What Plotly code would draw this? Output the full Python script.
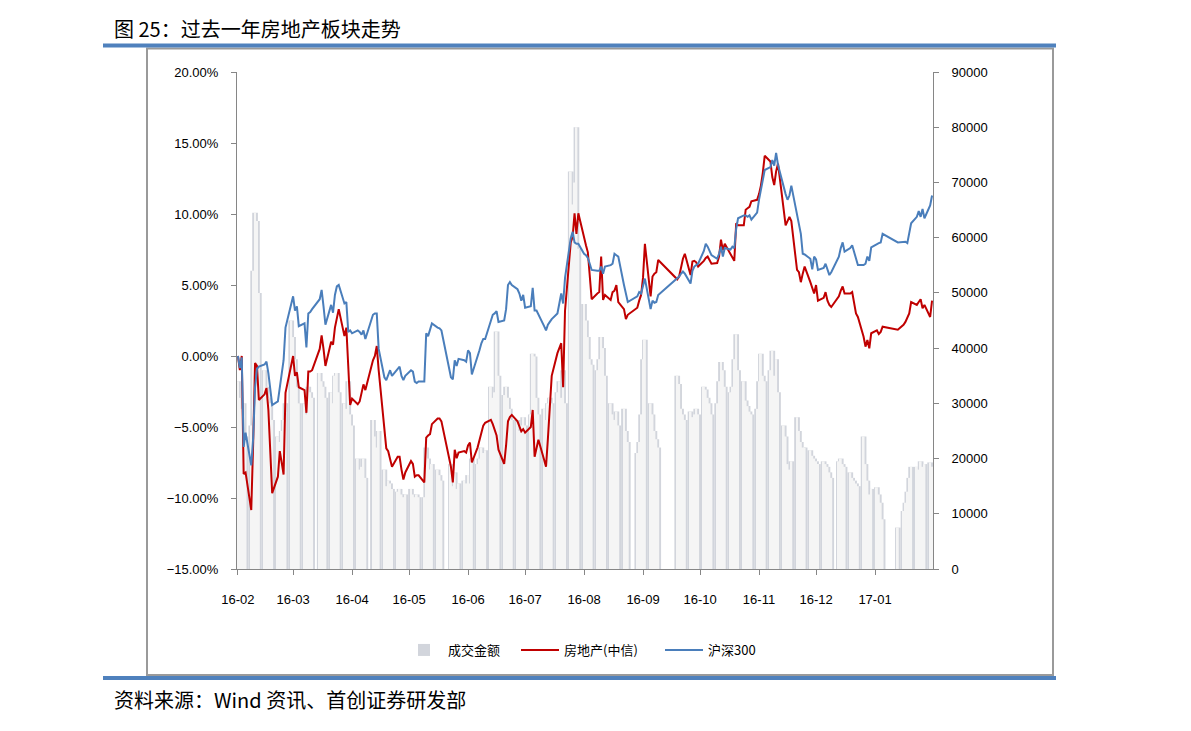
import pandas as pd
import plotly.graph_objects as go

# ---------------- data ----------------
holidays = ['2016-04-04', '2016-05-02', '2016-06-09', '2016-06-10', '2016-09-15', '2016-09-16',
            '2016-10-03', '2016-10-04', '2016-10-05', '2016-10-06', '2016-10-07', '2017-01-02',
            '2017-01-27', '2017-01-30', '2017-01-31', '2017-02-01', '2017-02-02']
trade_dates = [d for d in pd.bdate_range('2016-02-22', '2017-02-21')
               if d.strftime('%Y-%m-%d') not in holidays]

hs300_pct = (
    [0.0, -0.85, -0.1, -6.4, -5.4, -7.7] +
    [-5.8, -2.2, -0.9, -0.75, -0.6, -0.4, -1.2, -2.4, -3.45, -3.2, -2.2, -1.2, -0.3, 2.0,
     3.7, 4.2, 3.2, 3.5, 2.1, 2.3, 0.6, 3.0, 3.1] +
    [3.3, 4.0, 4.65, 3.5, 2.2, 3.6, 3.05, 4.3, 4.9, 5.0, 3.7, 3.8, 1.7, 1.8, 1.6,
     1.8, 1.7, 1.5, 1.8, 1.2] +
    [2.9, 3.0, 3.0, 0.5, -1.5, -1.7, -1.4, -1.0, -1.4, -0.9, -0.75, -1.4, -1.7, -1.4,
     -1.0, -1.1, -1.8, -1.9, -1.8, -1.8, 1.6] +
    [1.4, 1.9, 2.3, 2.0, 1.95, 1.8, -1.5, -1.65, -0.3, -0.7, -0.2, -0.3, -0.4, 0.4, 0.2, -1.3,
     -0.1, 0.4, 0.9, 1.2] +
    [1.2, 2.6, 2.9, 3.0, 3.16, 2.4, 2.5, 3.3, 5.0, 5.2, 5.0, 4.7, 4.4, 3.9, 4.3, 3.4,
     3.5, 4.8, 3.2, 3.2, 2.95] +
    [2.1, 1.8, 2.2, 2.4, 2.6, 3.0, 3.7, 4.4, 3.7, 5.5, 8.3, 8.75, 8.0, 7.9, 7.9,
     7.2, 7.1, 6.9, 6.5, 6.06, 6.0, 6.0, 6.3] +
    [5.8, 6.3, 6.4, 6.5, 7.2, 7.1, 7.0, 5.0, 4.5, 3.8, 4.2, 4.5, 4.4, 4.9, 5.45,
     3.3, 3.9, 3.75, 3.8, 4.3] +
    [5.5, 5.6, 5.8, 5.95, 5.8, 5.1, 6.0, 6.3, 6.4, 6.5, 7.4, 7.9, 7.7, 7.4, 7.1, 6.85] +
    [7.2, 7.7, 7.0, 7.6, 7.5, 7.7, 7.6, 8.96, 9.7, 9.9, 9.9, 9.8, 9.9, 9.6,
     10.1, 11.0, 11.8, 12.4, 13.1, 13.3, 13.8, 13.4] +
    [14.3, 13.45, 11.8, 11.4, 11.0, 11.3, 12.0, 9.8, 9.2, 8.6, 7.2, 7.15,
     6.85, 6.1, 7.0, 6.8, 6.06, 6.2, 6.5, 6.1, 5.7, 5.9] +
    [7.0, 7.6, 8.0, 7.35, 7.6, 7.8, 7.3, 6.8, 6.4, 6.4, 6.5, 7.0, 6.7, 7.65,
     7.9, 7.95, 8.0, 8.6] +
    [8.0, 8.0, 8.05, 7.95, 8.8, 9.35, 9.8, 10.2, 9.8, 10.35, 9.7, 10.6, 11.3]
)

realestate_pct = (
    [0.0, -1.0, 0.0, -8.3, -8.2, -10.85] +
    [-6.15, -0.5, -0.7, -3.1, -2.7, -2.25, -3.8, -7.0, -9.66, -8.5, -6.7, -7.5, -8.35, -2.6,
     -0.8, 0.0, -1.4, -1.15, -2.2, -2.4, -4.0, -1.1, -1.1] +
    [-1.0, 0.5, 1.45, 0.5, -0.7, 1.0, 0.8, 2.0, 2.6, 3.3, 1.4, 2.0, -0.7, -3.45, -3.0,
     -3.4, -3.2, -2.5, -2.0, -2.4] +
    [-0.3, 0.0, 0.7, -1.0, -5.0, -6.5, -6.7, -7.2, -7.8, -7.1, -7.1, -8.0, -8.7, -8.2,
     -7.4, -7.6, -8.5, -8.4, -8.4, -8.9, -5.75] +
    [-5.6, -5.5, -4.8, -4.4, -4.4, -4.6, -7.8, -8.9, -6.6, -7.2, -6.8, -6.7, -6.8, -6.3, -6.1, -7.5,
     -6.45, -5.9, -5.3, -4.9] +
    [-4.7, -4.5, -4.8, -5.2, -5.6, -6.6, -7.6, -6.3, -4.6, -4.3, -4.15, -4.6, -4.9, -5.3, -5.15, -5.4,
     -5.0, -3.8, -7.1, -6.5, -5.9] +
    [-7.3, -7.8, -5.8, -3.8, -1.4, 0.2, 0.6, 0.9, -2.2, 3.2, 8.0, 8.4, 10.05, 8.6, 10.05,
     8.2, 7.8, 7.3, 5.8, 4.0, 4.4, 4.5, 7.0] +
    [3.95, 4.3, 3.95, 4.5, 4.6, 5.0, 3.8, 3.3, 2.6, 2.9, 3.4, 3.9, 4.3, 5.5, 7.9,
     4.2, 5.6, 5.8, 5.9, 6.76] +
    [5.4, 5.6, 6.3, 6.85, 7.2, 5.7, 6.65, 6.7, 6.6, 6.3, 6.7, 6.9, 7.0, 6.7, 6.5, 6.55] +
    [7.0, 8.2, 7.45, 7.9, 7.2, 6.9, 6.7, 9.35, 9.2, 9.2, 10.3, 10.4, 10.5, 10.9,
     11.0, 11.4, 12.0, 12.9, 14.1, 13.7, 12.6, 12.04] +
    [13.0, 13.55, 10.4, 9.2, 9.5, 9.8, 9.5, 6.06, 5.9, 5.2, 5.8, 6.3,
     5.2, 4.8, 4.4, 5.0, 3.9, 4.1, 4.5, 3.9, 3.6, 3.45] +
    [4.2, 4.6, 4.9, 4.4, 4.4, 4.5, 3.8, 3.0, 2.75, 1.36, 0.66, 1.13, 0.54, 1.6,
     1.8, 1.55, 1.7, 2.06] +
    [1.85, 2.2, 2.4, 2.75, 3.0, 3.8, 3.6, 3.8, 4.0, 3.36, 3.6, 2.75, 3.9]
)

turnover = (
    [34000, 31000, 29000, 30000, 24000, 26000] +
    [54000, 64500, 63000, 50000, 36000, 33000, 31000, 30000, 27000, 24000, 23000, 25000, 27000, 30000,
     45000, 42000, 38000, 33000, 30000, 30000, 28000, 33000, 32000] +
    [31000, 35500, 34000, 33000, 31000, 32000, 30000, 35000, 35500, 32000,
     30000, 29000, 34000, 28000, 26000, 20000, 18000, 18500, 20000, 16500] +
    [27000, 24000, 22000, 25000, 18000, 15000, 16000, 15500, 14500, 14000, 14500, 13500, 13000, 13500,
     14500, 13500, 13000, 13500, 13000, 13000, 22000] +
    [20000, 18000, 19000, 18000, 17000, 16000, 19000, 15000, 17500, 14500, 15500,
     16000, 15500, 17000, 15500, 20000, 19000, 20000, 22000, 21000] +
    [21500, 33000, 31000, 32000, 43000, 35000, 31500, 33000, 31000, 29000, 27000,
     27000, 25000, 26000, 27500, 26000, 28000, 39000, 38500, 31000, 28000] +
    [29000, 27000, 30000, 31000, 30000, 32000, 34000, 31000, 36000, 30000,
     72000, 66000, 70000, 80000, 58000, 48000, 45000, 42000, 38000, 37000, 36000, 38000, 42000] +
    [40000, 35000, 30000, 28000, 27000, 28500, 26000, 29000, 25000, 23000,
     21000, 23000, 28000, 38000, 41500, 30000, 28000, 25000, 23500, 22000] +
    [35000, 33500, 29000, 28000, 27000, 28500, 27500, 28000, 29000, 28000,
     33000, 32500, 31000, 30000, 28000, 30000] +
    [34000, 37500, 36000, 33000, 32000, 33000, 38000, 42500, 36000, 34000, 30500, 29500, 28500, 28000,
     29000, 34000, 39000, 35000, 34000, 36000, 39500, 35000] +
    [38000, 32000, 26000, 24000, 19000, 18000, 19500, 27500, 25000, 23000, 22000, 22000,
     21500, 20500, 20000, 19500, 19000, 19500, 19000, 18500, 17500, 16500] +
    [19500, 20000, 19000, 18500, 17500, 16500, 16000, 15500, 15000, 24000, 19000, 16000, 13500, 14500,
     14800, 13500, 12000, 9000] +
    [7500, 10500, 12000, 14000, 16500, 18500, 18500, 18000, 19500, 18500, 19000, 19300, 18500]
)

assert len(trade_dates) == len(hs300_pct) == len(realestate_pct) == len(turnover)

# ---------------- figure ----------------
W, H = 1191, 731
L, R, T, B = 237, 933, 72, 569  # plot area in pixels
PW, PH = R - L, B - T


def px(x):
    return (x - L) / PW


def py(y):
    return (B - y) / PH


DAY = 86400000
CJK = "Noto Sans CJK SC, Liberation Sans, Arial, sans-serif"
LAT = "Liberation Sans, Arial, Noto Sans CJK SC, sans-serif"
AX = '#868686'

fig = go.Figure()
fig.add_trace(go.Bar(x=trade_dates, y=turnover, width=3 * DAY, name='成交金额',
                     marker=dict(color='#d2d5dc', line=dict(width=0)), yaxis='y',
                     legend='legend'))
fig.add_trace(go.Bar(x=trade_dates, y=turnover, width=DAY, name='成交金额', showlegend=False,
                     marker=dict(color='#f5f5f5', line=dict(width=0)), yaxis='y'))
fig.add_trace(go.Scatter(x=trade_dates, y=realestate_pct, mode='lines', name='房地产(中信)',
                         line=dict(color='#c00000', width=2), yaxis='y2', legend='legend2'))
fig.add_trace(go.Scatter(x=trade_dates, y=hs300_pct, mode='lines', name='沪深300',
                         line=dict(color='#4a7ebb', width=2), yaxis='y2', legend='legend3'))

tickfont = dict(family=LAT, size=13, color='#000000')
leg_common = dict(orientation='h', yanchor='middle', y=py(650), xanchor='left',
                  itemwidth=38,
                  font=dict(family=CJK, size=13, color='#000000'),
                  bgcolor='rgba(0,0,0,0)', borderwidth=0)

fig.update_layout(
    width=W, height=H,
    margin=dict(l=L, r=W - R, t=T, b=H - B, pad=0),
    paper_bgcolor='white', plot_bgcolor='white',
    barmode='overlay',
    xaxis=dict(type='date', range=['2016-02-21 12:00', '2017-02-21 12:00'],
               tick0='2016-02-22', dtick='M1', tickformat='%y-%m',
               ticks='outside', ticklen=5, tickcolor=AX, showline=True, linecolor=AX,
               linewidth=1, showgrid=False, zeroline=False, tickfont=tickfont,
               ticklabelstandoff=13),
    yaxis=dict(side='right', range=[0, 90000], dtick=10000, tickformat='d',
               ticks='outside', ticklen=5, tickcolor=AX, showline=True, linecolor=AX,
               linewidth=1, showgrid=False, zeroline=False, tickfont=tickfont,
               ticklabelstandoff=10),
    yaxis2=dict(side='left', overlaying='y', range=[-15, 20], dtick=5,
                tickformat='.2f', ticksuffix='%',
                ticks='outside', ticklen=5, tickcolor=AX, showline=True, linecolor=AX,
                linewidth=1, showgrid=False, zeroline=False, tickfont=tickfont,
                ticklabelstandoff=10),
    legend=dict(x=px(400), **leg_common),
    legend2=dict(x=px(516), **leg_common),
    legend3=dict(x=px(660), **leg_common),
    shapes=[
        dict(type='rect', xref='paper', yref='paper', x0=px(147), x1=px(1053),
             y0=py(675), y1=py(48.5), line=dict(color='#9a9a9a', width=2), layer='below'),
        dict(type='line', xref='paper', yref='paper', x0=px(103), x1=px(1056),
             y0=py(45.5), y1=py(45.5), line=dict(color='#4f81bd', width=4)),
        dict(type='line', xref='paper', yref='paper', x0=px(103), x1=px(1056),
             y0=py(678), y1=py(678), line=dict(color='#4f81bd', width=4)),
    ],
    annotations=[
        dict(text='图 25：过去一年房地产板块走势', xref='paper', yref='paper',
             x=px(112), y=py(28), xanchor='left', yanchor='middle', showarrow=False,
             font=dict(family=CJK, size=20, color='#000000')),
        dict(text='资料来源：Wind 资讯、首创证券研发部', xref='paper', yref='paper',
             x=px(112), y=py(699), xanchor='left', yanchor='middle', showarrow=False,
             font=dict(family=CJK, size=20, color='#000000')),
    ],
)

fig.write_html("out.html")
